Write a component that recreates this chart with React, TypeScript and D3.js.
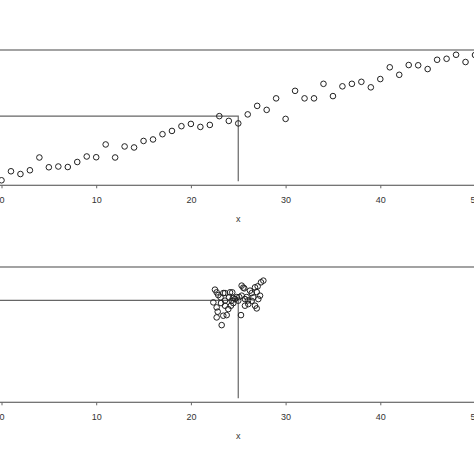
import { useEffect, useRef } from 'react'
import * as d3 from 'd3'

// top panel: one value per x = 0..50
const topX = d3.range(0, 51)
const topY = [
  2.0, 5.6, 4.5, 6.0, 11.1, 7.2, 7.5, 7.3, 9.3, 11.5, 11.2, 16.3, 11.1, 15.5, 15.1, 17.7, 18.3,
  20.4, 21.7, 23.6, 24.5, 23.3, 24.1, 27.6, 25.7, 24.7, 28.3, 31.7, 30.1, 34.7, 26.5, 37.7, 34.7,
  34.7, 40.5, 35.6, 39.5, 40.5, 41.3, 39.1, 42.4, 47.1, 44.1, 48.0, 47.9, 46.4, 50.1, 50.5, 52.1,
  49.2, 52.0,
]

// bottom panel: tight cluster
const botX = [
  22.54, 22.72, 22.89, 23.13, 23.42, 23.6, 24.13, 24.37, 25.36, 25.64, 26.77, 27.05, 27.4, 27.65,
  26.24, 26.42, 22.37, 22.72, 22.83, 22.72, 23.25, 23.42, 23.78, 23.95, 24.23, 24.48, 25.0, 25.29,
  25.71, 26.06, 26.77, 26.95, 27.12, 27.3, 26.59, 25.71, 25.36, 24.66, 24.31, 23.6, 23.18, 23.6,
  24.84, 25.11, 25.89, 26.03, 26.42, 25.53, 26.95, 24.03, 24.45,
]
const botY = [
  44.96, 43.88, 42.8, 41.88, 43.6, 43.6, 43.88, 43.88, 46.56, 45.48, 45.88, 46.28, 47.88, 48.56,
  44.56, 43.6, 39.88, 37.88, 36.16, 33.88, 30.8, 34.56, 34.8, 37.2, 38.56, 39.6, 40.56, 34.8,
  38.56, 39.2, 38.56, 37.48, 41.2, 42.56, 41.88, 41.2, 42.56, 41.2, 40.56, 40.56, 39.6, 38.56,
  42.0, 42.0, 42.0, 40.68, 40.48, 45.76, 44.0, 41.88, 41.68,
]

const xTicks = [0, 10, 20, 30, 40, 50]
const refX = 25
const topRefY = 27.6
const botRefY = 40.68
const refFloor = 1.6

export default function App() {
  const svgRef = useRef<SVGSVGElement>(null)

  useEffect(() => {
    if (!svgRef.current) return
    const svg = d3.select(svgRef.current)
    svg.selectAll('*').remove()

    const x = d3.scaleLinear().domain([0, 50]).range([1.5, 475])
    const lineColor = '#666'

    const panel = (top: number, xs: number[], ys: number[], refY: number) => {
      const y = d3.scaleLinear().domain([0, 54]).range([top + 135.3, top])
      const g = svg.append('g')

      // plot box (sides fall outside the picture)
      g.append('rect')
        .attr('x', x(-2))
        .attr('y', top)
        .attr('width', x(52) - x(-2))
        .attr('height', 135.3)
        .attr('fill', 'none')
        .attr('stroke', lineColor)
        .attr('stroke-width', 1.2)

      const axis = d3
        .axisBottom(x)
        .tickValues(xTicks)
        .tickSize(3)
        .tickPadding(7)
        .tickSizeOuter(0)
        .tickFormat(d3.format('d'))
      const ax = g.append('g').attr('transform', `translate(0,${top + 135.3})`).call(axis)
      ax.select('.domain').remove()
      ax.selectAll('line').attr('stroke', lineColor)
      ax.selectAll('text')
        .attr('dy', '0.9em')
        .style('font-family', '"Liberation Sans", Arial, sans-serif')
        .style('font-size', '9px')
        .style('fill', '#333')

      g.append('text')
        .attr('x', x(25))
        .attr('y', top + 172)
        .attr('text-anchor', 'middle')
        .style('font-family', '"Liberation Sans", Arial, sans-serif')
        .style('font-size', '9px')
        .style('fill', '#333')
        .text('x')

      // reference segments
      const path = d3.path()
      path.moveTo(x(-2), y(refY))
      path.lineTo(x(refX), y(refY))
      path.lineTo(x(refX), y(refFloor))
      g.append('path')
        .attr('d', path.toString())
        .attr('fill', 'none')
        .attr('stroke', lineColor)
        .attr('stroke-width', 1.2)

      g.selectAll('circle.pt')
        .data(xs.map((d, i) => [d, ys[i]]))
        .enter()
        .append('circle')
        .attr('class', 'pt')
        .attr('cx', (d) => x(d[0]))
        .attr('cy', (d) => y(d[1]))
        .attr('r', 2.8)
        .attr('fill', 'none')
        .attr('stroke', '#222')
        .attr('stroke-width', 1)
    }

    panel(50, topX, topY, topRefY)
    panel(267, botX, botY, botRefY)
  }, [])

  return (
    <svg
      ref={svgRef}
      width={474}
      height={474}
      style={{ position: 'absolute', left: 0, top: 0, background: '#fff' }}
    />
  )
}
